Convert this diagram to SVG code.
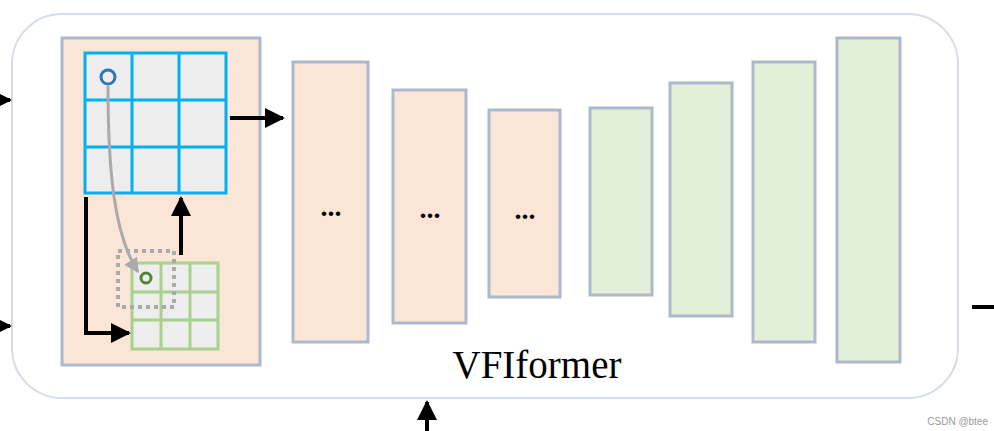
<svg xmlns="http://www.w3.org/2000/svg" width="994" height="431" viewBox="0 0 994 431">
<defs>
<marker id="ah" viewBox="0 0 10 10" refX="9" refY="5" markerWidth="5" markerHeight="5" orient="auto-start-reverse"><path d="M0,0L10,5L0,10z" fill="#000"/></marker>
<marker id="ag" viewBox="0 0 10 10" refX="9" refY="5" markerWidth="5" markerHeight="5" orient="auto"><path d="M0,0L10,5L0,10z" fill="#aaa"/></marker>
<style>.bar{stroke:#adb9ca;stroke-width:3}.o{fill:#fbe5d6}.g{fill:#e2f0d9}.k{stroke:#000;stroke-width:4;fill:none}</style>
</defs>
<rect width="994" height="431" fill="#fff"/>
<rect x="12" y="14" width="946" height="384" rx="50" fill="#fff" stroke="#d6dce5" stroke-width="2"/>
<g id="conv">
<rect x="62" y="38" width="198" height="327" class="o" stroke="#adb9ca" stroke-width="3"/>
<g fill="#ededed" stroke="#00b0f0" stroke-width="3">
<rect x="85" y="53" width="141" height="140"/>
<path d="M132,53V193M179,53V193M85,100H226M85,147H226"/>
</g>
<circle cx="108" cy="77" r="7" fill="none" stroke="#2e75b6" stroke-width="3"/>
<g fill="#ededed" stroke="#a9d18e" stroke-width="3">
<rect x="132" y="263" width="86" height="86"/>
<path d="M161,263V349M190,263V349M132,292H218M132,320H218"/>
</g>
<rect x="118" y="251" width="56" height="56" fill="none" stroke="#aaa" stroke-width="4" stroke-dasharray="4,4"/>
<circle cx="146" cy="278" r="5" fill="none" stroke="#538135" stroke-width="3"/>
<path d="M108,86C108,170 114,235 138,272" fill="none" stroke="#aaa" stroke-width="3" marker-end="url(#ag)"/>
</g>
<g id="connectors">
<path class="k" d="M86,197V333H129" marker-end="url(#ah)"/>
<path class="k" d="M181,255V198" marker-end="url(#ah)"/>
<path class="k" d="M230,118H283" marker-end="url(#ah)"/>
<path class="k" d="M0,100H10" marker-end="url(#ah)"/>
<path class="k" d="M0,326H10" marker-end="url(#ah)"/>
<path class="k" d="M972,307H994"/>
<path class="k" d="M427,431V402" marker-end="url(#ah)"/>
</g>
<g id="bars">
<rect id="b1" class="bar o" x="293" y="62" width="75" height="280"/>
<rect id="b2" class="bar o" x="393" y="90" width="73" height="233"/>
<rect id="b3" class="bar o" x="489" y="110" width="71" height="187"/>
<rect id="b4" class="bar g" x="590" y="108" width="62" height="187"/>
<rect id="b5" class="bar g" x="670" y="83" width="62" height="233"/>
<rect id="b6" class="bar g" x="753" y="62" width="62" height="280"/>
<rect id="b7" class="bar g" x="837" y="38" width="63" height="324"/>
</g>
<g font-family="Liberation Serif, serif" text-anchor="middle">
<text x="331" y="216" font-size="28" font-weight="bold">...</text>
<text x="430" y="218" font-size="28" font-weight="bold">...</text>
<text x="525" y="219" font-size="28" font-weight="bold">...</text>
<text x="537" y="378" font-size="39">VFIformer</text>
</g>
<text x="988" y="425" font-family="Liberation Sans, sans-serif" font-size="10" fill="#999" text-anchor="end">CSDN @btee</text>
</svg>
